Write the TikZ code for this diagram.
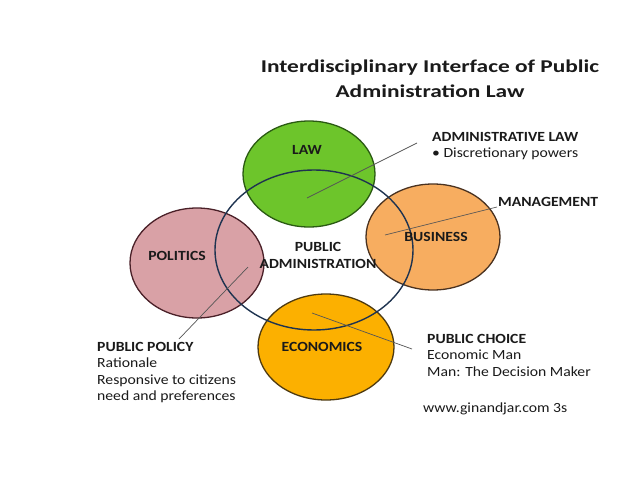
\documentclass[tikz,border=0pt]{standalone}
\usepackage{fontspec}
\setmainfont{Carlito}
\newfontfamily\ttlfont{Carlito}[FakeStretch=1.3]
\newfontfamily\lblfont{Carlito}[FakeStretch=1.12]
\usetikzlibrary{shapes.geometric}
\definecolor{lawfill}{HTML}{6DC52B}
\definecolor{lawline}{HTML}{2A5A12}
\definecolor{busfill}{HTML}{F7AD60}
\definecolor{busline}{HTML}{4A3220}
\definecolor{polfill}{HTML}{D9A1A6}
\definecolor{polline}{HTML}{4A2028}
\definecolor{ecofill}{HTML}{FCB000}
\definecolor{ecoline}{HTML}{4E3A10}
\definecolor{paline}{HTML}{1E3350}
\definecolor{txt}{HTML}{1A1A1A}
\definecolor{leader}{HTML}{555555}
\tikzset{
  blob/.style={ellipse, draw, line width=1.3pt, inner sep=0pt},
  lbl/.style={font=\lblfont\bfseries\fontsize{14}{17}\selectfont, text=txt, inner sep=0pt},
  note/.style={font=\lblfont\fontsize{14}{17}\selectfont, text=txt, inner sep=0pt, anchor=base west},
  notehead/.style={note, font=\lblfont\bfseries\fontsize{14}{17}\selectfont},
  leadline/.style={draw=leader, line width=0.7pt},
  ttl/.style={font=\ttlfont\bfseries\fontsize{18}{22}\selectfont, text=txt, inner sep=0pt, anchor=base},
}
\begin{document}
\begin{tikzpicture}[x=1pt,y=-1pt]
\useasboundingbox (0,0) rectangle (638,479);
\fill[white] (0,0) rectangle (638,479);
% title
\node[ttl] (title1) at (430,72) {Interdisciplinary Interface of Public};
\node[ttl] (title2) at (430,97) {Administration Law};
% ellipses
\node[blob, fill=lawfill, draw=lawline, minimum width=132, minimum height=106] (law) at (309,174) {};
\node[blob, fill=busfill, draw=busline, minimum width=134, minimum height=106] (bus) at (433,237) {};
\node[blob, fill=polfill, draw=polline, minimum width=134, minimum height=110] (pol) at (197,263) {};
\node[blob, fill=ecofill, draw=ecoline, minimum width=136, minimum height=106] (eco) at (326,347) {};
\node[blob, draw=paline, line width=1.4pt, minimum width=198, minimum height=160] (pa) at (314,250) {};
% labels in ellipses
\node[lbl] (lawt) at (307,150) {LAW};
\node[lbl] (bust) at (436,237) {BUSINESS};
\node[lbl] (polt) at (177,256) {POLITICS};
\node[lbl] (ecot) at (322,347) {ECONOMICS};
\node[lbl, align=center] (pat) at (318,255) {PUBLIC\\ADMINISTRATION};
% notes
\node[notehead] (adm) at (432,141) {ADMINISTRATIVE LAW};
\node[note] (disc) at (432,157) {\textbullet\ Discretionary powers};
\node[notehead] (mgmt) at (498,206) {MANAGEMENT};
\node[notehead] (pp) at (97,351) {PUBLIC POLICY};
\node[note] (pp1) at (97,367) {Rationale};
\node[note] (pp2) at (97,384) {Responsive to citizens};
\node[note] (pp3) at (97,400) {need and preferences};
\node[notehead] (pc) at (427,343) {PUBLIC CHOICE};
\node[note] (pc1) at (427,359) {Economic Man};
\node[note] (pc2) at (427,376) {Man: The Decision Maker};
\node[note] (web) at (423,412) {www.ginandjar.com 3s};
% leader lines
\coordinate (a1) at (307,198); \coordinate (a2) at (417,143);
\coordinate (m1) at (385,235); \coordinate (m2) at (497,207);
\coordinate (p1) at (248,267); \coordinate (p2) at (179,339);
\coordinate (c1) at (312,313); \coordinate (c2) at (412,349);
\draw[leadline] (a1) -- (a2);
\draw[leadline] (m1) -- (m2);
\draw[leadline] (p1) -- (p2);
\draw[leadline] (c1) -- (c2);
\end{tikzpicture}
\end{document}
